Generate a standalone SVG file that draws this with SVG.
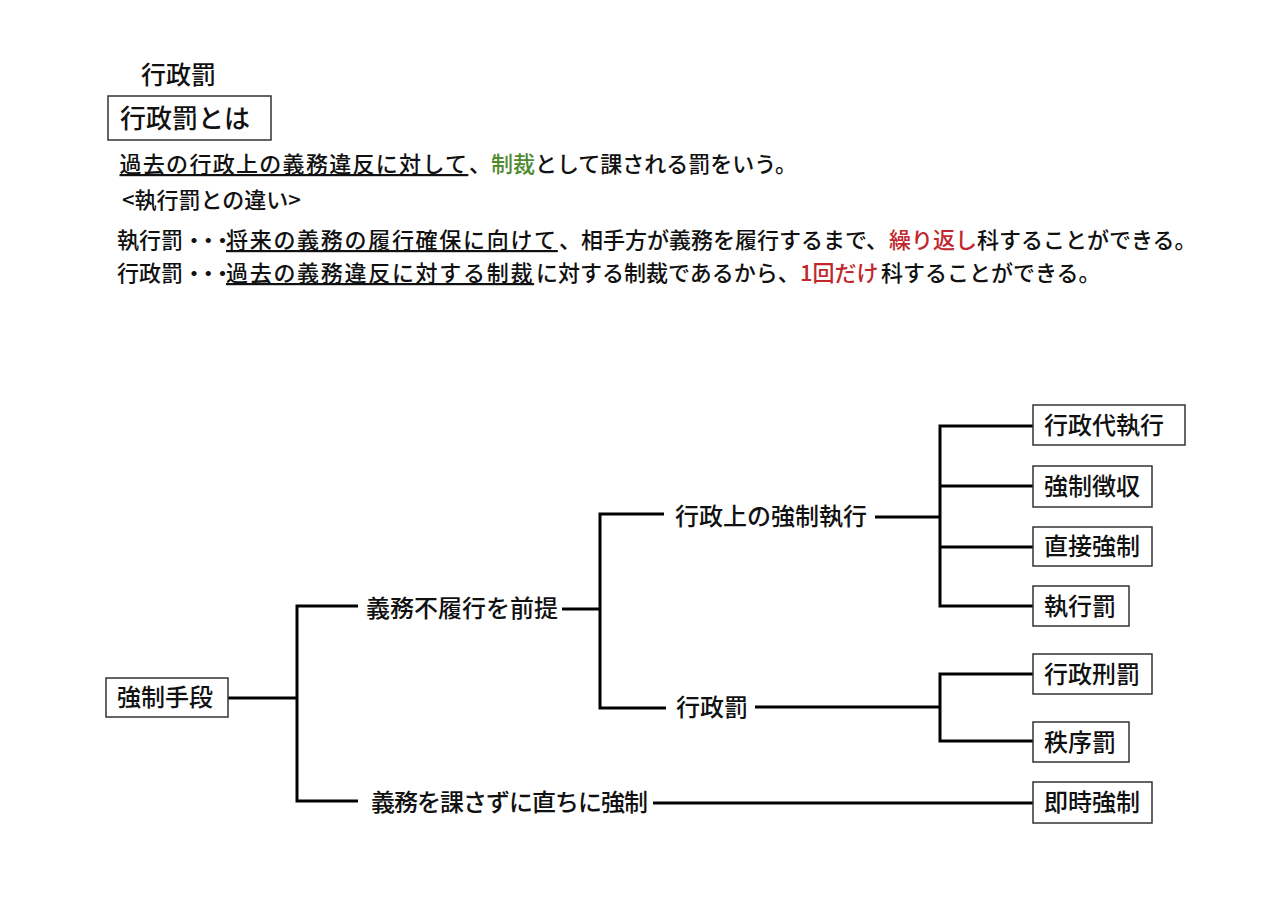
<svg xmlns="http://www.w3.org/2000/svg" width="1280" height="905" viewBox="0 0 1280 905">
<style>
text{font-family:"Noto Sans CJK JP","Noto Sans CJK SC",sans-serif;fill:#111;font-weight:500;}
.body{font-size:22px;}
.node{font-size:24px;}
.u{text-decoration:underline;}
.g{fill:#4f8a30;}
.r{fill:#c0282d;}
.box{fill:#fff;stroke:#333;stroke-width:1.5;}
.conn{fill:none;stroke:#000;stroke-width:3;stroke-linejoin:miter;}
</style>
<rect width="1280" height="905" fill="#fff"/>
<g id="header">
<text x="141" y="84" style="font-size:25px">行政罰</text>
<rect class="box" x="108" y="96" width="163" height="44"/>
<text x="120" y="128" style="font-size:26px">行政罰とは</text>
<text class="body" y="172"><tspan class="u" x="119.5" letter-spacing="1.3">過去の行政上の義務違反に対して</tspan><tspan x="469">、</tspan><tspan class="g" x="491">制裁</tspan><tspan x="535">として課される罰をいう。</tspan></text>
<text class="body" x="122" y="208">&lt;執行罰との違い&gt;</text>
<text class="body" y="248"><tspan x="117">執行罰</tspan><tspan x="183" letter-spacing="-7.7">・・・</tspan><tspan class="u" x="226" letter-spacing="1.7">将来の義務の履行確保に向けて</tspan><tspan x="559">、相手方が義務を履行するまで、</tspan><tspan class="r" x="889">繰り返し</tspan><tspan x="977">科することができる。</tspan></text>
<text class="body" y="281"><tspan x="117">行政罰</tspan><tspan x="183" letter-spacing="-7.7">・・・</tspan><tspan class="u" x="226" letter-spacing="1.7">過去の義務違反に対する制裁</tspan><tspan x="536">に対する制裁であるから、</tspan><tspan class="r" x="800">1回だけ</tspan><tspan x="881">科することができる。</tspan></text>
</g>
<g id="connectors">
<path class="conn" d="M228,698 H297"/>
<path class="conn" d="M358,606 H297 V801 H358"/>
<path class="conn" d="M562,609 H600"/>
<path class="conn" d="M664,514 H600 V708 H666"/>
<path class="conn" d="M875,517 H940"/>
<path class="conn" d="M1033,426 H940 V606 H1033"/>
<path class="conn" d="M940,486 H1033 M940,547 H1033"/>
<path class="conn" d="M755,707 H940"/>
<path class="conn" d="M1033,674 H940 V741 H1033"/>
<path class="conn" d="M653,803 H1033"/>
</g>
<g id="n-root"><rect class="box" x="106" y="678" width="122" height="39"/><text class="node" x="117" y="706">強制手段</text></g>
<g id="n-furiko"><text class="node" x="366" y="617">義務不履行を前提</text></g>
<g id="n-kyosei-shikko"><text class="node" x="675" y="525">行政上の強制執行</text></g>
<g id="n-gyoseibatsu"><text class="node" x="676" y="716">行政罰</text></g>
<g id="n-tadachi"><text class="node" x="371" y="811" letter-spacing="-1">義務を課さずに直ちに強制</text></g>
<g id="n-daishikko"><rect class="box" x="1033" y="405" width="152" height="40"/><text class="node" x="1044" y="434">行政代執行</text></g>
<g id="n-choshu"><rect class="box" x="1033" y="466" width="119" height="41"/><text class="node" x="1044" y="495">強制徴収</text></g>
<g id="n-chokusetsu"><rect class="box" x="1033" y="527" width="119" height="39"/><text class="node" x="1044" y="555">直接強制</text></g>
<g id="n-shikkobatsu"><rect class="box" x="1033" y="586" width="96" height="40"/><text class="node" x="1044" y="615">執行罰</text></g>
<g id="n-keibatsu"><rect class="box" x="1033" y="654" width="119" height="40"/><text class="node" x="1044" y="683">行政刑罰</text></g>
<g id="n-chitsujo"><rect class="box" x="1033" y="722" width="96" height="40"/><text class="node" x="1044" y="751">秩序罰</text></g>
<g id="n-sokuji"><rect class="box" x="1033" y="782" width="119" height="41"/><text class="node" x="1044" y="811">即時強制</text></g>
</svg>
